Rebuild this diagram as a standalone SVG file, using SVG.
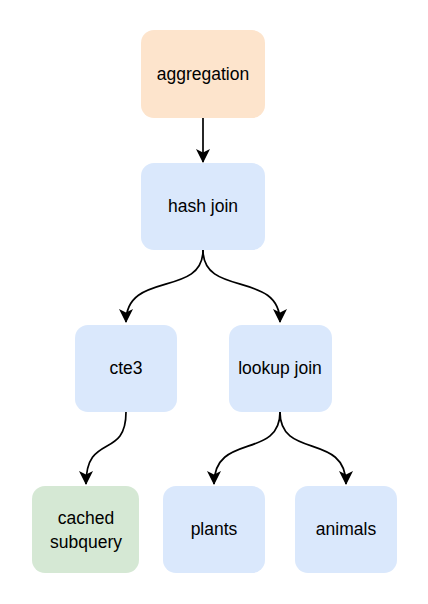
<svg xmlns="http://www.w3.org/2000/svg" width="428" height="604" viewBox="0 0 428 604">
<defs>
<style>
.n{stroke:none}
.o{fill:#fde4cc}
.b{fill:#dae8fc}
.g{fill:#d5e8d4}
text{font-family:"Liberation Sans",Arial,sans-serif;font-size:17.5px;fill:#000;text-anchor:middle;dominant-baseline:central}
.e{fill:none;stroke:#000;stroke-width:1.7}
</style>
<marker id="ah" viewBox="0 0 14 14" refX="13" refY="7" markerWidth="14" markerHeight="14" markerUnits="userSpaceOnUse" orient="auto">
<path d="M0 0 L14 7 L0 14 L3.5 7 Z" fill="#000"/>
</marker>
</defs>
<rect width="428" height="604" fill="#fff"/>
<g id="connectors">
<path class="e" d="M203 118 L203 162" marker-end="url(#ah)"/>
<path class="e" d="M203 250 C203 298 126 270 126 322" marker-end="url(#ah)"/>
<path class="e" d="M203 250 C203 298 280 270 280 322" marker-end="url(#ah)"/>
<path class="e" d="M126 412 C126 460 86 432 86 484" marker-end="url(#ah)"/>
<path class="e" d="M280 412 C280 460 214 432 214 484" marker-end="url(#ah)"/>
<path class="e" d="M280 412 C280 460 346 432 346 484" marker-end="url(#ah)"/>
</g>
<g id="aggregation"><rect class="n o" x="141" y="30" width="124" height="88" rx="13"/><text x="203" y="74">aggregation</text></g>
<g id="hashjoin"><rect class="n b" x="141" y="163" width="124" height="87" rx="13"/><text x="203" y="206">hash join</text></g>
<g id="cte3"><rect class="n b" x="75" y="325" width="102" height="87" rx="13"/><text x="126" y="368">cte3</text></g>
<g id="lookupjoin"><rect class="n b" x="229" y="325" width="103" height="87" rx="13"/><text x="280" y="368">lookup join</text></g>
<g id="cachedsubquery"><rect class="n g" x="32" y="486" width="107" height="87" rx="13"/><text x="86" y="518">cached</text><text x="86" y="542">subquery</text></g>
<g id="plants"><rect class="n b" x="163" y="486" width="102" height="87" rx="13"/><text x="214" y="529">plants</text></g>
<g id="animals"><rect class="n b" x="295" y="486" width="102" height="87" rx="13"/><text x="346" y="529">animals</text></g>
</svg>
